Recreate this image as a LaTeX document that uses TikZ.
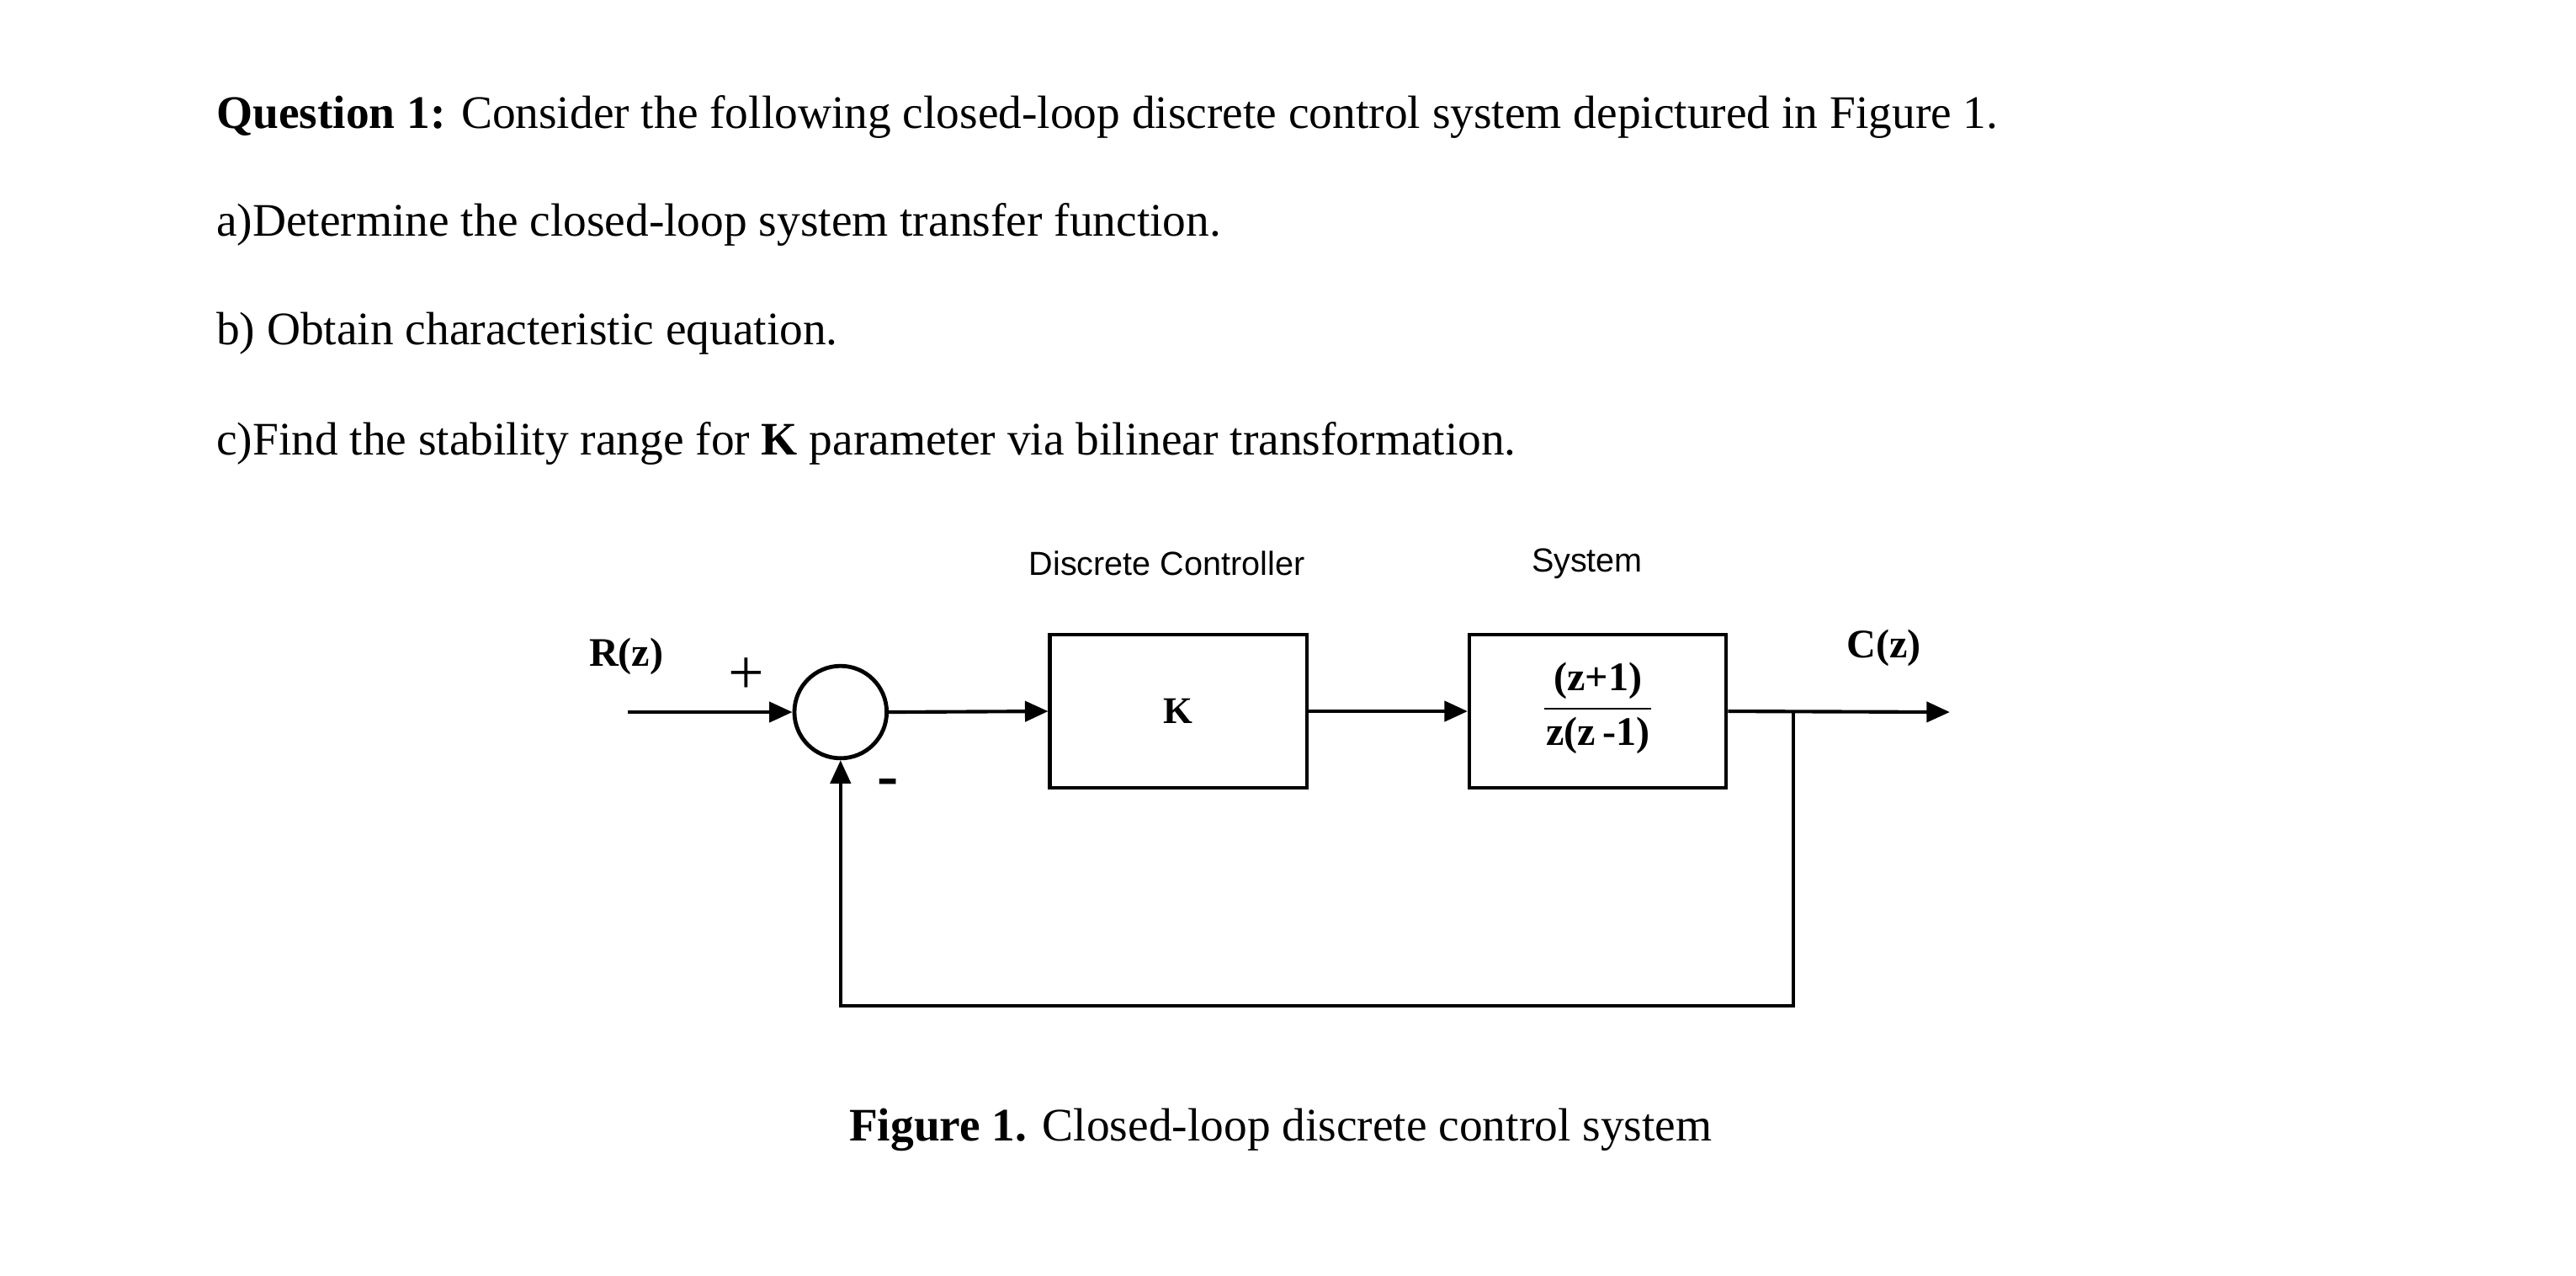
\documentclass[tikz,border=0pt]{standalone}
\usepackage{fontspec}
\setmainfont{Liberation Serif}
\newfontfamily\arial{Liberation Sans}
\usetikzlibrary{arrows.meta}
\begin{document}
\begin{tikzpicture}[x=0.02cm,y=-0.02cm,
  blk/.style={draw,line width=1.2pt,minimum width=3.12cm,minimum height=1.86cm,inner sep=0pt},
  ln/.style={line width=1.2pt},
  arr/.style={ln,-{Triangle[length=8pt,width=7pt]}},
  txt/.style={anchor=base west,inner sep=0pt,font=\fontsize{16.1}{19}\selectfont},
  lab/.style={font=\arial\fontsize{11.5}{13}\selectfont,inner sep=0pt}]
\useasboundingbox (0,0) rectangle (1563,774);
\node[txt] (q1) at (131,78) {\textbf{Question 1:} Consider the following closed-loop discrete control system depictured in Figure 1.};
\node[txt] (qa) at (131,143) {a)Determine the closed-loop system transfer function.};
\node[txt] (qb) at (131,209) {b) Obtain characteristic equation.};
\node[txt] (qc) at (131,276) {c)Find the stability range for \textbf{K} parameter via bilinear transformation.};
\node[lab] (l1) at (708,342) {Discrete Controller};
\node[lab] (l2) at (963,342) {System};
\node[blk] (K) at (715,431.5) {\fontsize{13}{15}\selectfont\textbf{K}};
\node[blk] (S) at (969.5,431.5) {};
\node[font=\fontsize{14}{16}\selectfont\bfseries,inner sep=0pt] (num) at (969.5,413) {(z+1)};
\node[font=\fontsize{14}{16}\selectfont\bfseries,inner sep=0pt] (den) at (969.5,446) {z(z\,-1)};
\draw[line width=0.6pt] (937,430) -- (1002,430);
\node[draw,circle,line width=1.4pt,minimum size=1.12cm,inner sep=0pt] (sum) at (510,432) {};
\coordinate (in) at (381,432);
\coordinate (out) at (1183,432);
\coordinate (br) at (1088,432);
\coordinate (c1) at (1088,610);
\coordinate (c2) at (510,610);
\node[font=\fontsize{14}{16}\selectfont\bfseries] (R) at (380,398) {R(z)};
\node[font=\fontsize{14}{16}\selectfont\bfseries] (C) at (1143,393) {C(z)};
\node[font=\fontsize{22}{24}\selectfont] (plus) at (453,410) {+};
\node[font=\fontsize{22}{24}\selectfont\bfseries] (minus) at (539,478) {-};
\draw[arr] (in) -- (sum.west);
\draw[arr] (sum.east) -- (K.west);
\draw[arr] (K.east) -- (S.west);
\draw[arr] (S.east) -- (out);
\draw[arr] (br) -- (c1) -- (c2) -- (sum.south);
\node[anchor=base,inner sep=0pt,font=\fontsize{16.1}{19}\selectfont] (cap) at (777,692) {\textbf{Figure 1.} Closed-loop discrete control system};
\end{tikzpicture}
\end{document}
